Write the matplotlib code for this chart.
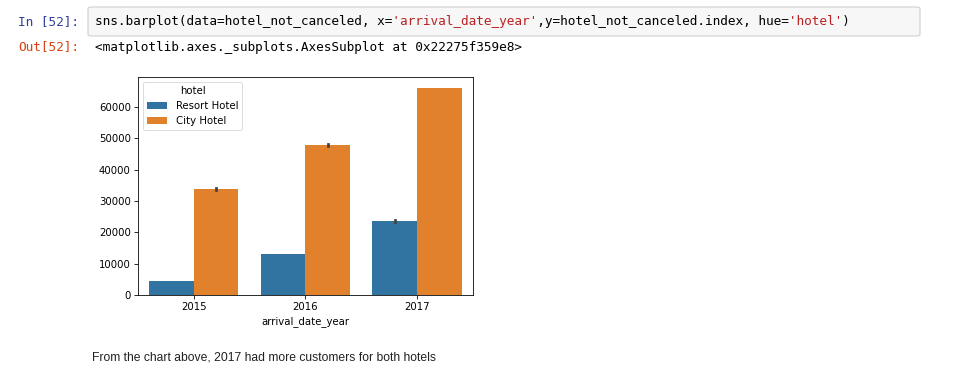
import matplotlib
matplotlib.use("Agg")
import matplotlib.pyplot as plt
from matplotlib.patches import FancyBboxPatch
import numpy as np

# -----------------------------
# dados
# -----------------------------
anos = ["2015", "2016", "2017"]
hoteis = ["Resort Hotel", "City Hotel"]
resort_vals = [4470, 13180, 23620]
city_vals = [33830, 47870, 65970]
resort_err = [0, 0, 220]
city_err = [220, 220, 0]
y_ticks = [0, 10000, 20000, 30000, 40000, 50000, 60000]

cores = ["#3274a1", "#e1812c"]

codigo = "sns.barplot(data=hotel_not_canceled, x='arrival_date_year',y=hotel_not_canceled.index, hue='hotel')"
saida = "<matplotlib.axes._subplots.AxesSubplot at 0x22275f359e8>"
comentario = "From the chart above, 2017 had more customers for both hotels"

W, H = 975, 374
fig = plt.figure(figsize=(W / 100, H / 100), dpi=100)
fig.patch.set_facecolor("white")


def fx(px):
    return px / W


def fy(py):
    return 1 - py / H


# -----------------------------
# célula de código (estilo notebook)
# -----------------------------
caixa = FancyBboxPatch((fx(88), fy(36)), fx(920) - fx(88), fy(7) - fy(36),
                       boxstyle="round,pad=0,rounding_size=0.004",
                       transform=fig.transFigure, facecolor="#f7f7f7",
                       edgecolor="#cfcfcf", linewidth=0.8)
fig.patches.append(caixa)

mono = "DejaVu Sans Mono"
tam = 9.22
fig.text(fx(79), fy(22), "In [52]:", ha="right", va="center",
         family=mono, fontsize=tam, color="#303F9F")
fig.text(fx(79), fy(47), "Out[52]:", ha="right", va="center",
         family=mono, fontsize=tam, color="#D84315")

# separar strings do resto para colorir
mascara = np.zeros(len(codigo), dtype=bool)
dentro = False
for i, c in enumerate(codigo):
    if c == "'":
        mascara[i] = True
        dentro = not dentro
    elif dentro:
        mascara[i] = True
preto = "".join(" " if m else c for c, m in zip(codigo, mascara))
vermelho = "".join(c if m else " " for c, m in zip(codigo, mascara))
fig.text(fx(95), fy(22), preto, ha="left", va="center",
         family=mono, fontsize=tam, color="#000000")
fig.text(fx(95), fy(22), vermelho, ha="left", va="center",
         family=mono, fontsize=tam, color="#BA2121")
fig.text(fx(95), fy(47), saida, ha="left", va="center",
         family=mono, fontsize=tam, color="#000000")

# -----------------------------
# gráfico de barras
# -----------------------------
esc = 0.73
ax = fig.add_axes([fx(138), fy(295), fx(473) - fx(138), fy(77) - fy(295)])
x = np.arange(len(anos))
larg = 0.4
ax.bar(x - larg / 2, resort_vals, larg, color=cores[0], label=hoteis[0])
ax.bar(x + larg / 2, city_vals, larg, color=cores[1], label=hoteis[1])
for xi, v, e in zip(x - larg / 2, resort_vals, resort_err):
    if e > 0:
        ax.plot([xi, xi], [v - e, v + e], color="#424242", lw=2.7 * esc)
for xi, v, e in zip(x + larg / 2, city_vals, city_err):
    if e > 0:
        ax.plot([xi, xi], [v - e, v + e], color="#424242", lw=2.7 * esc)

ax.set_xlim(-0.5, 2.5)
ax.set_ylim(0, 69600)
ax.set_xticks(x)
ax.set_xticklabels(anos)
ax.set_yticks(y_ticks)
ax.set_xlabel("arrival_date_year", fontsize=10 * esc, labelpad=4 * esc)
ax.tick_params(labelsize=10 * esc, length=3.5 * esc, width=0.8 * esc,
               pad=3.5 * esc)
for s in ax.spines.values():
    s.set_linewidth(0.8 * esc)

leg = ax.legend(title="hotel", loc="upper left", fontsize=10 * esc,
                title_fontsize=10 * esc, frameon=True, fancybox=True,
                handlelength=2.0, borderpad=0.4)
leg.get_frame().set_linewidth(0.8 * esc)
leg.get_frame().set_edgecolor("#cccccc")

# -----------------------------
# texto markdown
# -----------------------------
fig.text(fx(92), fy(357), comentario, ha="left", va="center",
         family="Liberation Sans", fontsize=8.7, color="#222222")

fig.savefig("out.png", dpi=100)
